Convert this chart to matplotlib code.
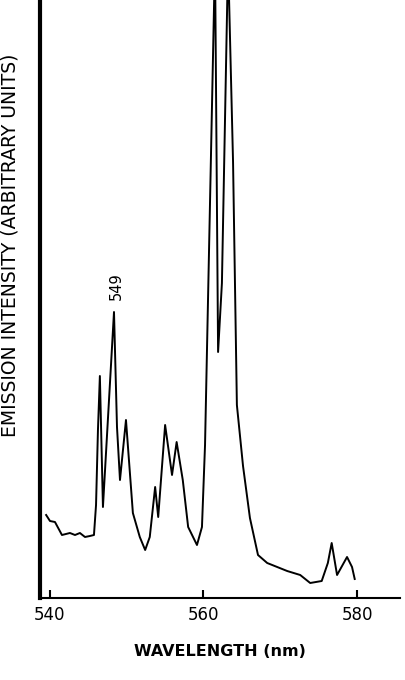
import matplotlib
matplotlib.use("Agg")
import matplotlib.pyplot as plt

wavelength = [539.5, 540.0, 540.65, 541.56, 542.6, 543.26, 543.9, 544.56, 545.2, 545.73,
              546.0, 546.25, 546.5, 546.9, 548.34, 548.73, 549.12, 549.9, 550.8, 551.7,
              552.4, 553.0, 553.7, 554.1, 555.0, 555.9, 556.5, 557.3, 558.0, 559.15,
              559.8, 560.2, 560.85, 561.5, 561.9, 562.4, 563.2, 563.85, 564.35, 565.15,
              566.05, 567.1, 568.3, 569.6, 570.9, 572.6, 573.9, 575.4, 576.2, 576.7,
              577.4, 578.7, 579.35, 579.7]
intensity = [83, 77, 76, 63, 65, 63, 65, 61, 62, 63,
             93, 168, 222, 91, 286, 171, 118, 178, 85, 61,
             48, 61, 111, 81, 173, 123, 156, 118, 71, 53,
             71, 153, 396, 640, 246, 315, 640, 436, 193, 132,
             80, 43, 35, 31, 27, 23, 15, 17, 35, 55,
             23, 41, 31, 19]
xticks = [540, 560, 580]

fig = plt.figure(figsize=(4.06, 6.80), dpi=100)
ax = fig.add_axes([40/406, 82/680, 360/406, 598/680])
ax.plot(wavelength, intensity, color="black", lw=1.4)
ax.set_xlim(538.7, 585.6)
ax.set_ylim(0, 598)
ax.spines["top"].set_visible(False)
ax.spines["right"].set_visible(False)
ax.spines["left"].set_linewidth(3)
ax.spines["bottom"].set_linewidth(1.5)
ax.set_yticks([])
ax.set_xticks(xticks)
ax.set_xticklabels([str(t) for t in xticks], fontsize=12)
ax.tick_params(axis="x", direction="in", length=6, width=1.5, pad=6)
ax.set_xlabel("WAVELENGTH (nm)", fontsize=11.5, fontweight="bold", labelpad=14)
ax.set_ylabel("EMISSION INTENSITY (ARBITRARY UNITS)", fontsize=13.5)
ax.yaxis.set_label_coords(-0.058, (598 - 245) / 598)
ax.text(548.7, 298, "549", rotation=90, fontsize=10.5, ha="center", va="bottom")
fig.savefig("out.png", dpi=100)
